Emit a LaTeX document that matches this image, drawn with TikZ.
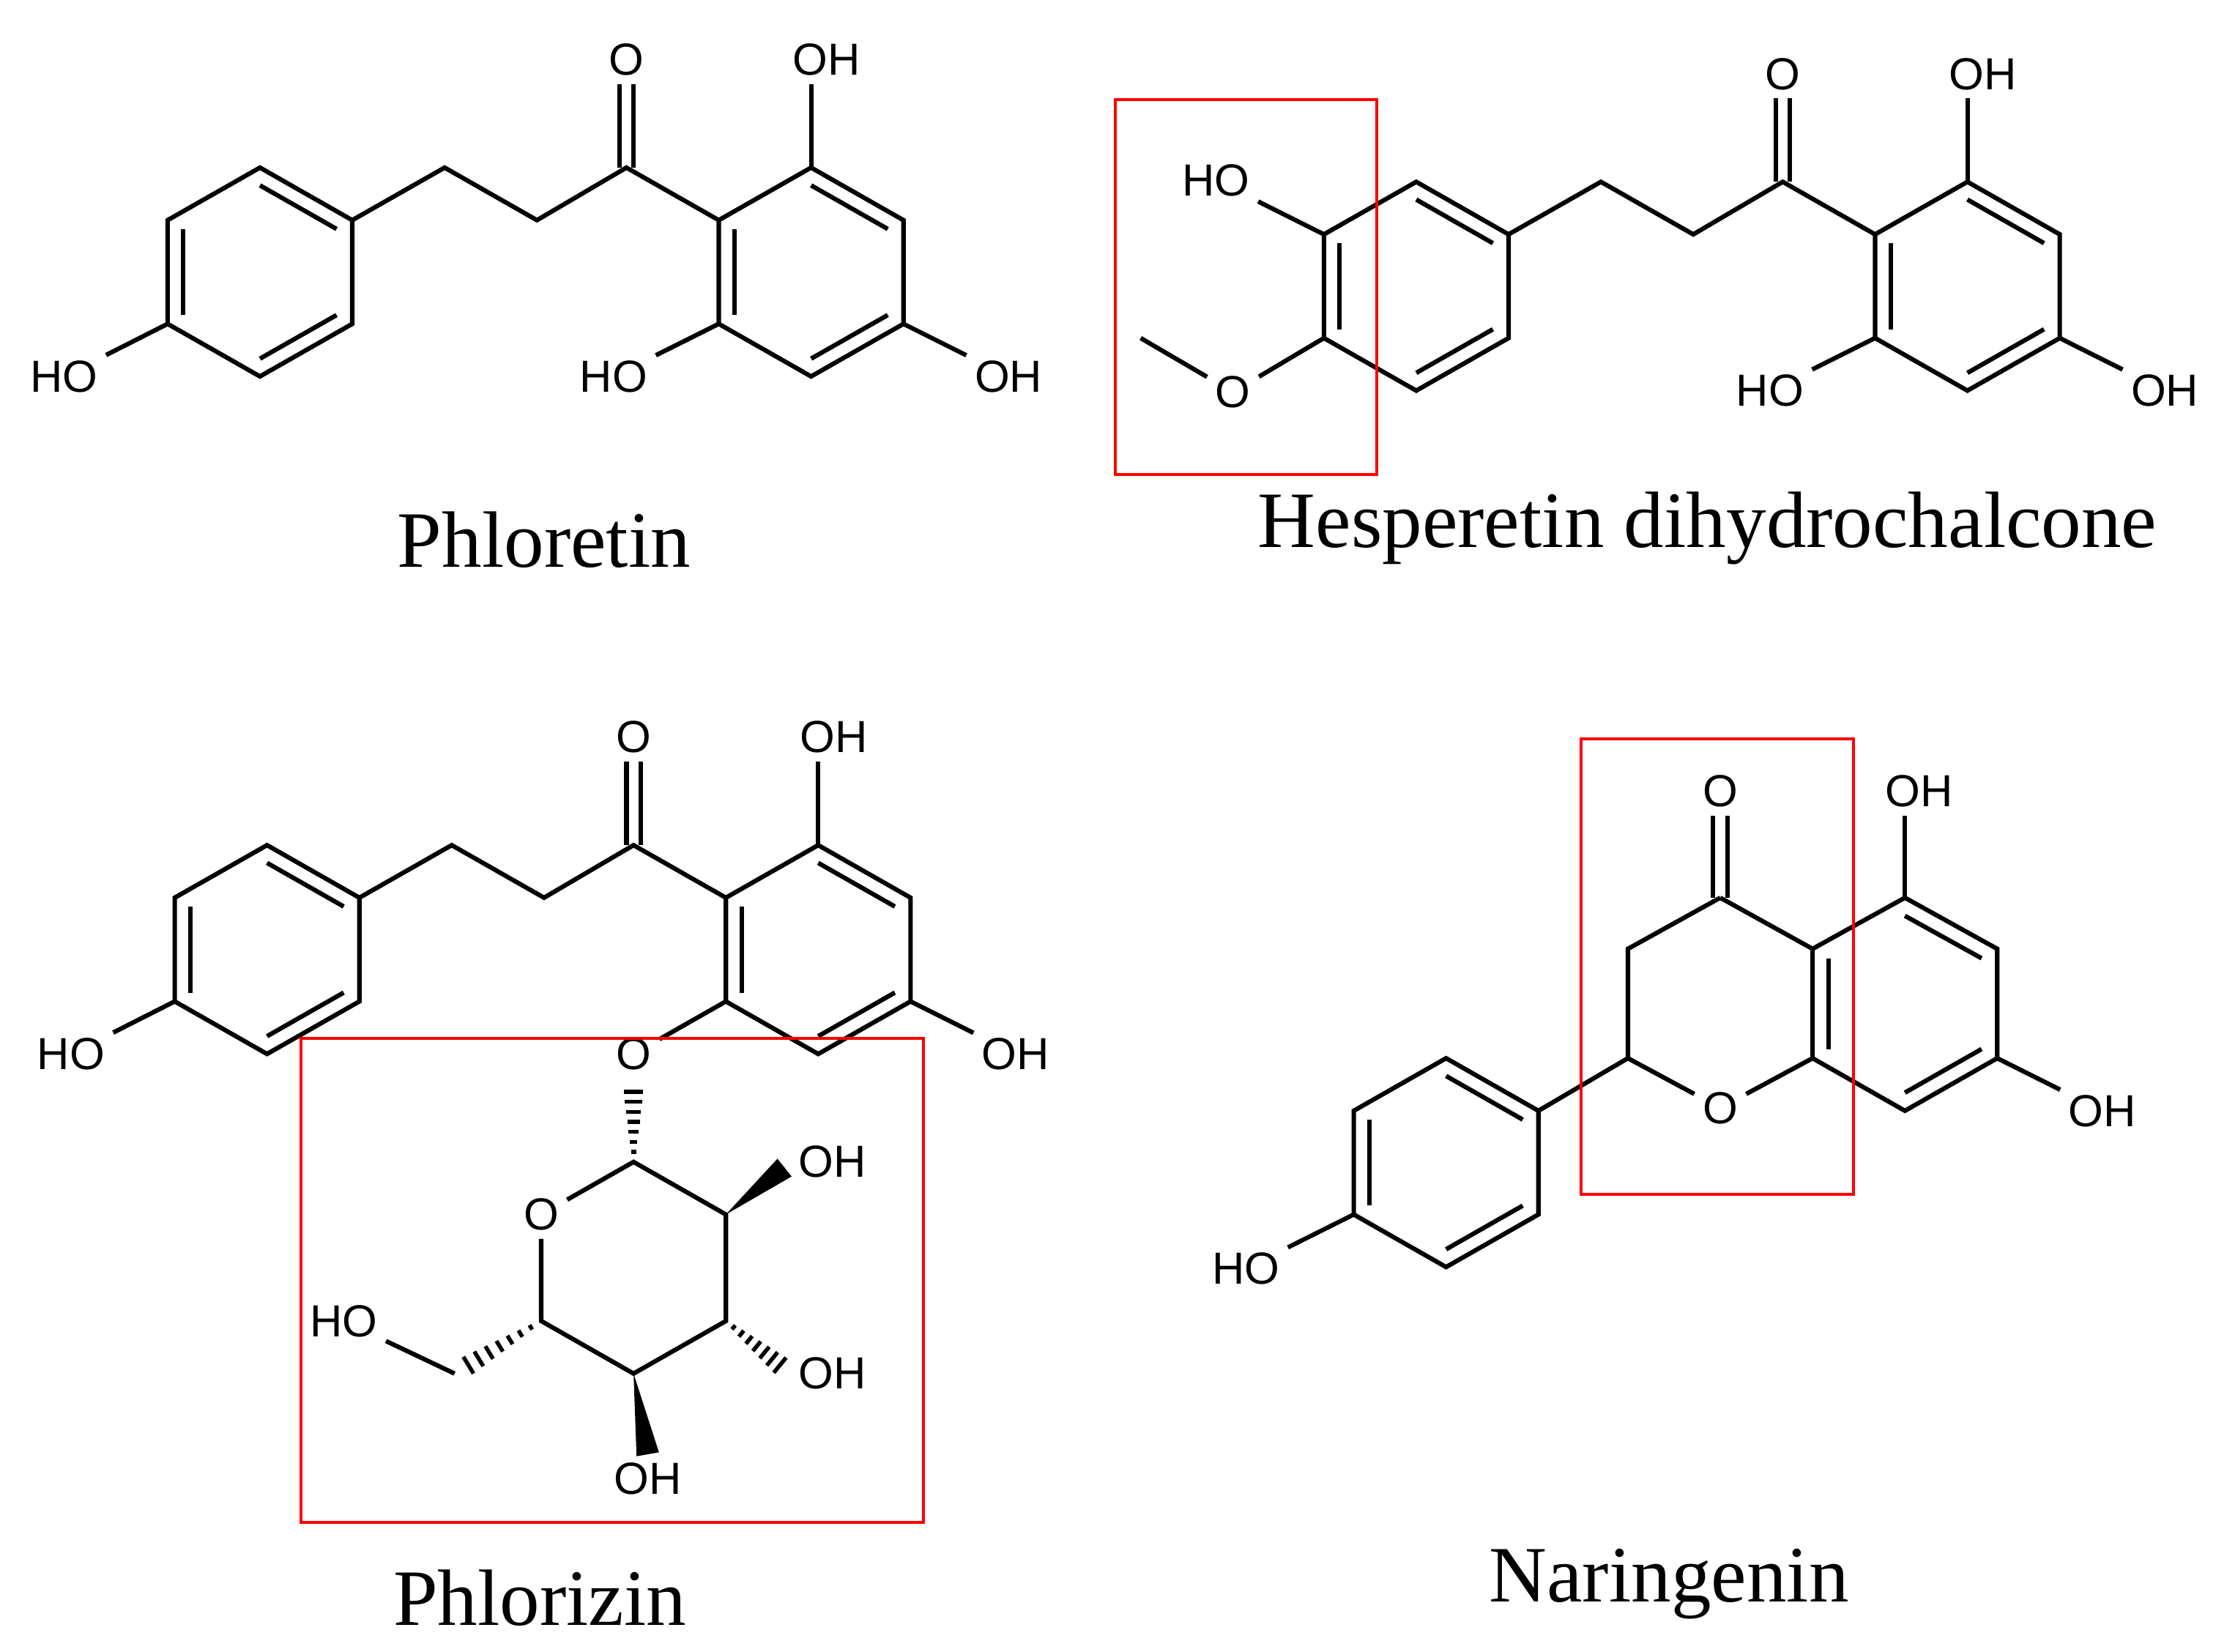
\documentclass[tikz,border=0pt]{standalone}
\usepackage{fontspec}
\setmainfont{Liberation Serif}
\setsansfont{Liberation Sans}
\usetikzlibrary{calc}
\newcommand\dbin[3]{\draw[bond] ($(#1)!0.17!(#3)$) -- ($(#2)!0.17!(#3)$);}
\newcommand\chal[1]{%
 \coordinate (#1a1) at (183,118); \coordinate (#1a2) at (248,155);
 \coordinate (#1a3) at (248,228); \coordinate (#1a4) at (183,265);
 \coordinate (#1a5) at (118,228); \coordinate (#1a6) at (118,155);
 \coordinate (#1ac) at (183,191.5);
 \coordinate (#1c1) at (313,118); \coordinate (#1c2) at (378,155); \coordinate (#1c3) at (441,118);
 \coordinate (#1b1) at (506,155); \coordinate (#1b2) at (571,118);
 \coordinate (#1b3) at (636,155); \coordinate (#1b4) at (636,228);
 \coordinate (#1b5) at (571,265); \coordinate (#1b6) at (506,228);
 \coordinate (#1bc) at (571,191.5);
 \node[lbl] (#1o) at (441,42) {O};
 \node[lbl] (#1oh1) at (582,42) {OH};
 \node[lbl] (#1oh2) at (710,265) {OH};
 \draw[bond] (#1a1)--(#1a2)--(#1a3)--(#1a4)--(#1a5)--(#1a6)--cycle;
 \dbin{#1a1}{#1a2}{#1ac}\dbin{#1a3}{#1a4}{#1ac}\dbin{#1a5}{#1a6}{#1ac}
 \draw[bond] (#1b1)--(#1b2)--(#1b3)--(#1b4)--(#1b5)--(#1b6)--cycle;
 \dbin{#1b2}{#1b3}{#1bc}\dbin{#1b4}{#1b5}{#1bc}\dbin{#1b6}{#1b1}{#1bc}
 \draw[bond] (#1a2)--(#1c1)--(#1c2)--(#1c3)--(#1b1);
 \draw[bond] ($(#1c3)+(-5,0)$) -- ($(#1o.south)+(-5,0)$);
 \draw[bond] ($(#1c3)+(5,0)$) -- ($(#1o.south)+(5,0)$);
 \draw[bond] (#1b2) -- (#1b2|-#1oh1.south);
 \draw[bond] (#1b4) -- (#1oh2);
}
\begin{document}
\begin{tikzpicture}[x=0.01cm,y=-0.01cm,
 bond/.style={line width=0.9pt},
 lbl/.style={font=\sffamily\fontsize{9}{10}\selectfont,inner sep=1.5pt},
 ttl/.style={font=\fontsize{16}{18}\selectfont},
 redbox/.style={draw=red,line width=0.6pt}]
\useasboundingbox (0,0) rectangle (1560,1163);
% Phloretin
\begin{scope}
 \chal{p}
 \node[lbl] (pho) at (45,265) {HO};
 \node[lbl] (pho2) at (432,265) {HO};
 \draw[bond] (pa5) -- (pho);
 \draw[bond] (pb6) -- (pho2);
\end{scope}
\node[ttl] (t1) at (383,380) {Phloretin};
% Hesperetin DHC
\begin{scope}[shift={(814,10)}]
 \chal{h}
 \node[lbl] (hho) at (42,117) {HO};
 \node[lbl] (hom) at (54,266) {O};
 \coordinate (hme) at (-11,228);
 \node[lbl] (hho2) at (432,265) {HO};
 \draw[bond] (ha6) -- (hho);
 \draw[bond] (ha5) -- (hom) -- (hme);
 \draw[bond] (hb6) -- (hho2);
\end{scope}
\draw[redbox] (785,70) rectangle (969,334);
\node[ttl] (t2) at (1202,372) {Hesperetin dihydrochalcone};
% Phlorizin
\begin{scope}[shift={(5,477)}]
 \chal{z}
 \node[lbl] (zho) at (45,265) {HO};
 \node[lbl] (zog) at (441,265) {O};
 \draw[bond] (za5) -- (zho);
 \draw[bond] (zb6) -- (zog);
\end{scope}
\coordinate (s1) at (446,818); \coordinate (s2) at (511,855);
\coordinate (s3) at (511,930); \coordinate (s4) at (446,967);
\coordinate (s5) at (381,930); \coordinate (s6) at (320,967);
\node[lbl] (so) at (381,855) {O};
\node[lbl] (soh2) at (586,818) {OH};
\node[lbl] (soh3) at (586,967) {OH};
\node[lbl] (soh4) at (456,1041) {OH};
\node[lbl] (soh6) at (242,930) {HO};
\draw[bond] (so) -- (s1) -- (s2) -- (s3) -- (s4) -- (s5) -- (so);
\draw[bond] (s6) -- (soh6);
% hashed bonds
\foreach \t in {0.12,0.24,...,0.95}{
 \coordinate (m) at ($(s1)!\t!(zog.south)$);
 \draw[line width=0.8pt] ($(m)!{\t*0.07cm+0.01cm}!90:(zog.south)$) -- ($(m)!{\t*0.07cm+0.01cm}!-90:(zog.south)$);
 \coordinate (m) at ($(s3)!\t!(soh3.west)$);
 \draw[line width=0.8pt] ($(m)!{\t*0.07cm+0.01cm}!90:(soh3.west)$) -- ($(m)!{\t*0.07cm+0.01cm}!-90:(soh3.west)$);
 \coordinate (m) at ($(s5)!\t!(s6)$);
 \draw[line width=0.8pt] ($(m)!{\t*0.07cm+0.01cm}!90:(s6)$) -- ($(m)!{\t*0.07cm+0.01cm}!-90:(s6)$);
}
% wedges
\coordinate (w2) at ($(soh2.west)+(-4,4)$);
\fill (s2) -- ($(w2)!0.08cm!90:(s2)$) -- ($(w2)!0.08cm!-90:(s2)$) -- cycle;
\coordinate (w4) at (soh4.north);
\fill (s4) -- ($(w4)!0.08cm!90:(s4)$) -- ($(w4)!0.08cm!-90:(s4)$) -- cycle;
\draw[redbox] (212,731) rectangle (650,1072);
\node[ttl] (t3) at (380,1125) {Phlorizin};
% Naringenin
\coordinate (n4) at (1211,632); \coordinate (n4a) at (1276,668);
\coordinate (n8a) at (1276,745); \coordinate (n2) at (1146,745);
\coordinate (n3) at (1146,668);
\node[lbl] (no1) at (1211,780) {O};
\node[lbl] (no4) at (1211,557) {O};
\coordinate (n5) at (1341,632); \coordinate (n6) at (1406,668);
\coordinate (n7) at (1406,745); \coordinate (n8) at (1341,782);
\coordinate (nac) at (1341,707);
\node[lbl] (noh5) at (1351,557) {OH};
\node[lbl] (noh7) at (1480,782) {OH};
\coordinate (q1) at (1083,782); \coordinate (q2) at (1018,745);
\coordinate (q3) at (953,782); \coordinate (q4) at (953,855);
\coordinate (q5) at (1018,892); \coordinate (q6) at (1083,855);
\coordinate (qc) at (1018,818.5);
\node[lbl] (nho) at (877,893) {HO};
\draw[bond] (n4) -- (n4a) -- (n5) -- (n6) -- (n7) -- (n8) -- (n8a) -- (n4a);
\draw[bond] (n8a) -- (no1) -- (n2) -- (n3) -- (n4);
\dbin{n4a}{n8a}{nac}\dbin{n5}{n6}{nac}\dbin{n7}{n8}{nac}
\draw[bond] ($(n4)+(-5,0)$) -- ($(no4.south)+(-5,0)$);
\draw[bond] ($(n4)+(5,0)$) -- ($(no4.south)+(5,0)$);
\draw[bond] (n5) -- (n5|-noh5.south);
\draw[bond] (n7) -- (noh7);
\draw[bond] (n2) -- (q1);
\draw[bond] (q1)--(q2)--(q3)--(q4)--(q5)--(q6)--cycle;
\dbin{q1}{q2}{qc}\dbin{q3}{q4}{qc}\dbin{q5}{q6}{qc}
\draw[bond] (q4) -- (nho);
\draw[redbox] (1113,520) rectangle (1305,841);
\node[ttl] (t4) at (1175,1115) {Naringenin};
\end{tikzpicture}
\end{document}
